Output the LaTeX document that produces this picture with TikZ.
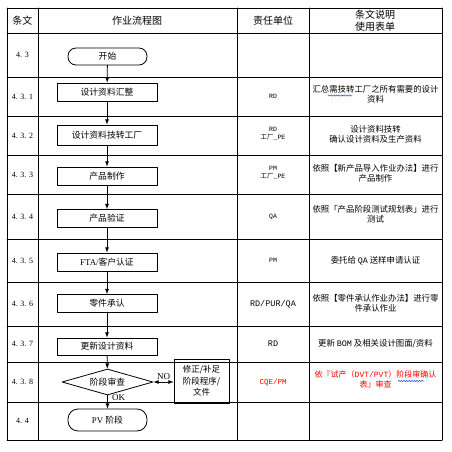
\documentclass[tikz,border=0pt]{standalone}
\usepackage{fontspec}
\setmainfont{Liberation Serif}
\newfontfamily\cjk{Noto Sans CJK SC}
\newfontfamily\codefont{Liberation Mono}
\usetikzlibrary{positioning,shapes.geometric,decorations.pathmorphing}

\definecolor{remarkred}{RGB}{255,0,0}
\definecolor{squiggleblue}{RGB}{45,70,215}

\begin{document}
\begin{tikzpicture}[x=1pt,y=-1pt,line cap=round,line join=round,
    tableline/.style={line width=0.8pt},
    flowbox/.style={draw,line width=0.8pt,minimum width=100pt,minimum height=18pt,
        inner sep=0pt,font=\cjk\fontsize{8.8}{10}\selectfont},
    terminal/.style={flowbox,minimum width=79pt,minimum height=17pt,rounded corners=8pt},
    decision/.style={flowbox,diamond,aspect=3.5,minimum width=91pt,minimum height=26pt},
    flowarrow/.style={-latex,line width=0.8pt},
    headtext/.style={align=center,font=\cjk\fontsize{10}{12}\selectfont},
    rownum/.style={font=\fontsize{8}{9}\selectfont},
    role/.style={align=center,font=\codefont\fontsize{6.5}{8.5}\selectfont},
    bigrole/.style={align=center,font=\codefont\fontsize{8.5}{10}\selectfont},
    desc/.style={align=center,font=\cjk\fontsize{8.4}{10}\selectfont},
    squiggle/.style={squiggleblue,line width=0.5pt,decorate,
        decoration={snake,amplitude=0.7pt,segment length=2.6pt}}]

    \fill[white] (0,0) rectangle (452,452);
    \useasboundingbox (0,0) rectangle (452,452);

    % table
    \foreach \y in {8,33,77,116,155,194,239,282,326,362,402,440}
        \draw[tableline] (7,\y) -- (442,\y);
    \foreach \x in {7,38,237,309,442}
        \draw[tableline] (\x,8) -- (\x,440);

    \node[headtext] (hclause) at (22.5,20.5) {条文};
    \node[headtext] (hflow) at (137,20.5) {作业流程图};
    \node[headtext] (hunit) at (273,20.5) {责任单位};
    \node[headtext] (hnote) at (375,20.5) {条文说明\\使用表单};

    \foreach \ypos/\num [count=\i] in {55/{4. 3},96.5/{4. 3. 1},135.5/{4. 3. 2},
            174.5/{4. 3. 3},216.5/{4. 3. 4},260.5/{4. 3. 5},304/{4. 3. 6},
            344/{4. 3. 7},382/{4. 3. 8},421/{4. 4}}
        \node[rownum] (num\i) at (22.5,\ypos) {\num};

    % responsible units
    \node[role] (unit1) at (273,96.5) {RD};
    \node[role] (unit2) at (273,133.5) {RD\\{\cjk 工厂}\_PE};
    \node[role] (unit3) at (273,172.5) {PM\\{\cjk 工厂}\_PE};
    \node[role] (unit4) at (273,216.5) {QA};
    \node[role] (unit5) at (273,260.5) {PM};
    \node[bigrole] (unit6) at (273,304) {RD/PUR/QA};
    \node[bigrole] (unit7) at (273,344) {RD};
    \node[role,remarkred,font=\codefont\fontsize{7.5}{9}\selectfont] (unit8) at (273,382) {CQE/PM};

    % clause notes
    \node[desc] (note1) at (375.5,94.5) {汇总需技转工厂之所有需要的设计\\资料};
    \node[desc] (note2) at (375.5,134) {设计资料技转\\确认设计资料及生产资料};
    \node[desc] (note3) at (375.5,173.5) {依照【新产品导入作业办法】进行\\产品制作};
    \node[desc] (note4) at (375.5,214) {依照「产品阶段测试规划表」进行\\测试};
    \node[desc] (note5) at (375.5,260.5) {委托给 {\codefont QA} 送样申请认证};
    \node[desc] (note6) at (375.5,303) {依照【零件承认作业办法】进行零\\件承认作业};
    \node[desc] (note7) at (375.5,344) {更新 {\codefont BOM} 及相关设计图面/资料};
    \node[desc,remarkred,font=\cjk\fontsize{8}{10}\selectfont] (note8) at (375.5,379.5)
        {依『试产（{\codefont DVT/PVT}）阶段审确认\\表』审查};
    \draw[squiggle] (328,95.5) -- (352,95.5);
    \draw[squiggle] (398,381) -- (424,381);

    % flow chart
    \node[terminal] (start) at (107.5,56.5) {开始};
    \node[flowbox] (collect) at (107,92) {设计资料汇整};
    \node[flowbox,minimum height=20pt] (transfer) at (107,135) {设计资料技转工厂};
    \node[flowbox] (make) at (107,176) {产品制作};
    \node[flowbox] (verify) at (107,218.5) {产品验证};
    \node[flowbox] (certify) at (107,262) {{\rmfamily FTA/}客户认证};
    \node[flowbox] (parts) at (107,303.5) {零件承认};
    \node[flowbox,minimum height=17pt] (update) at (107,346.5) {更新设计资料};
    \node[decision] (review) at (107.5,382) {阶段审查};
    \node[terminal,minimum height=22pt,rounded corners=10pt] (pvstage) at (107.5,420)
        {{\rmfamily PV }阶段};
    \node[flowbox,minimum width=55pt,minimum height=44pt,align=center,
        font=\cjk\fontsize{8.5}{11.5}\selectfont] (revise) at (201.5,381)
        {修正/补足\\阶段程序/\\文件};

    \foreach \a/\b in {start/collect,collect/transfer,transfer/make,make/verify,
            verify/certify,certify/parts,parts/update,update/review}
        \draw[flowarrow] (\a) -- (\b);
    \draw[flowarrow] (review) -- node[pos=0.2,right=1pt,font=\fontsize{9}{10}\selectfont] {OK} (pvstage);
    \draw[latex-latex,line width=0.8pt] (review.east) --
        node[above=-1pt,font=\fontsize{9}{10}\selectfont] {NO} (review.east -| revise.west);
\end{tikzpicture}
\end{document}
